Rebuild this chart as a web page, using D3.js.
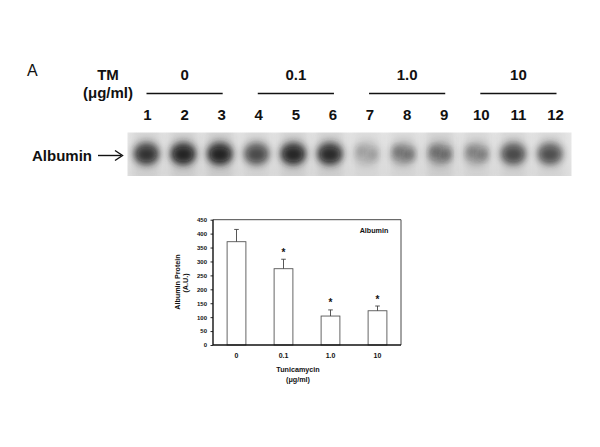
<!DOCTYPE html>
<html><head><meta charset="utf-8">
<script src="https://cdn.jsdelivr.net/npm/d3@7/dist/d3.min.js"></script>
<style>
html,body{margin:0;padding:0;background:#fff;}
svg{display:block;font-family:"Liberation Sans",Arial,sans-serif;}
text{fill:#111;}
</style></head>
<body>
<svg id="c" width="600" height="447"></svg>
<script>
// ---- Data ----
const laneNumbers = [1,2,3,4,5,6,7,8,9,10,11,12];
const doseGroups = ["0","0.1","1.0","10"];
const groupLanes = [[1,2,3],[4,5,6],[7,8,9],[10,11,12]];
// estimated band darkness per lane (0..1)
const laneIntensity = [0.85,0.97,0.98,0.7,0.95,0.92,0.25,0.4,0.42,0.35,0.7,0.68];
// estimated smear (vertical haze) per lane (0..1)
const laneSpread = [0.5,0.6,0.65,0.4,0.55,0.55,0.3,0.35,0.55,0.4,0.45,0.35];

const categories = ["0","0.1","1.0","10"];
const meanValues = [371,274,104,123];
const errorValues = [44,34,22,17];
const significant = [false,true,true,true];
const yTicks = [0,50,100,150,200,250,300,350,400,450];

const svg = d3.select("#c");
const defs = svg.append("defs");

// ---- Blot panel ----
svg.append("text").attr("x",27).attr("y",76).attr("font-size",16).text("A");
svg.append("text").attr("x",108).attr("y",80).attr("font-size",15).attr("font-weight","bold")
  .attr("text-anchor","middle").text("TM");
svg.append("text").attr("x",108).attr("y",98).attr("font-size",15).attr("font-weight","bold")
  .attr("text-anchor","middle").text("(\u03bcg/ml)");

const laneX = d3.scalePoint().domain(laneNumbers).range([147.5,555.5]);
const bandX = d3.scalePoint().domain(laneNumbers).range([146.5,550]);

svg.selectAll(".lanenum").data(laneNumbers).join("text")
  .attr("x",d=>laneX(d)).attr("y",120).attr("font-size",15).attr("font-weight","bold")
  .attr("text-anchor","middle").text(d=>d);

groupLanes.forEach((g,i)=>{
  const x0 = laneX(g[0]), x1 = laneX(g[g.length-1]);
  svg.append("line").attr("x1",x0-1).attr("x2",x1+1).attr("y1",93.5).attr("y2",93.5)
    .attr("stroke","#111").attr("stroke-width",1.3);
  svg.append("text").attr("x",(x0+x1)/2).attr("y",80).attr("font-size",15).attr("font-weight","bold")
    .attr("text-anchor","middle").text(doseGroups[i]);
});

svg.append("text").attr("x",32).attr("y",161).attr("font-size",15).attr("font-weight","bold").text("Albumin");
svg.append("line").attr("x1",98).attr("x2",121).attr("y1",155.5).attr("y2",155.5).attr("stroke","#111").attr("stroke-width",1.4);
svg.append("path").attr("d","M115,150.5 L122.5,155.5 L115,160.5").attr("fill","none").attr("stroke","#111").attr("stroke-width",1.4);

const blot = {x0:127.5,x1:571.5,y0:132.5,y1:176};
defs.append("clipPath").attr("id","blotclip").append("rect")
  .attr("x",blot.x0).attr("y",blot.y0).attr("width",blot.x1-blot.x0).attr("height",blot.y1-blot.y0);
const f1 = defs.append("filter").attr("id","blur1").attr("x","-50%").attr("y","-50%").attr("width","200%").attr("height","200%");
f1.append("feGaussianBlur").attr("stdDeviation",3.5);
const f2 = defs.append("filter").attr("id","blur2").attr("x","-50%").attr("y","-50%").attr("width","200%").attr("height","200%");
f2.append("feGaussianBlur").attr("stdDeviation",5);
const grad = defs.append("linearGradient").attr("id","blotbg").attr("x1",0).attr("x2",0).attr("y1",0).attr("y2",1);
grad.append("stop").attr("offset","0%").attr("stop-color","#e8e8e8");
grad.append("stop").attr("offset","100%").attr("stop-color","#e0e0e0");

svg.append("rect").attr("x",blot.x0).attr("y",blot.y0).attr("width",blot.x1-blot.x0).attr("height",blot.y1-blot.y0)
  .attr("fill","url(#blotbg)");
const bg = svg.append("g").attr("clip-path","url(#blotclip)");
const bandY = 153.5;
// vertical smears (lane columns)
bg.selectAll(".smear").data(laneNumbers).join("rect")
  .attr("x",d=>bandX(d)-14).attr("y",blot.y0-4).attr("width",28).attr("height",blot.y1-blot.y0+8)
  .attr("fill","#333").attr("opacity",(d,i)=>laneSpread[i]*0.22).attr("filter","url(#blur2)");
// band body
bg.selectAll(".body").data(laneNumbers).join("ellipse")
  .attr("cx",d=>bandX(d)).attr("cy",bandY).attr("rx",13).attr("ry",12)
  .attr("fill","#1a1a1a").attr("opacity",(d,i)=>laneIntensity[i]*0.7).attr("filter","url(#blur1)");
// band core
bg.selectAll(".core").data(laneNumbers).join("ellipse")
  .attr("cx",d=>bandX(d)).attr("cy",bandY+1).attr("rx",10).attr("ry",7)
  .attr("fill","#0a0a0a").attr("opacity",(d,i)=>Math.max(0,laneIntensity[i]-0.25)).attr("filter","url(#blur1)");
// mottled spots for faint lanes
bg.selectAll(".spotL").data(laneNumbers).join("ellipse")
  .attr("cx",d=>bandX(d)-5).attr("cy",bandY-2).attr("rx",4).attr("ry",4.5)
  .attr("fill","#222").attr("opacity",(d,i)=>laneIntensity[i]<0.5?laneIntensity[i]*1.1:0).attr("filter","url(#blur1)");
bg.selectAll(".spotR").data(laneNumbers).join("ellipse")
  .attr("cx",d=>bandX(d)+6).attr("cy",bandY+1).attr("rx",4).attr("ry",4.5)
  .attr("fill","#222").attr("opacity",(d,i)=>laneIntensity[i]<0.5?laneIntensity[i]*1.2:0).attr("filter","url(#blur1)");

// ---- Bar chart ----
const m = {l:213,r:401,t:219.7,b:345};
const x = d3.scaleBand().domain(categories).range([m.l,m.r]).paddingInner(0.6).paddingOuter(0.3);
const y = d3.scaleLinear().domain([0,450]).range([m.b,m.t]);

svg.append("line").attr("x1",m.l).attr("x2",m.r).attr("y1",m.t).attr("y2",m.t).attr("stroke","#333").attr("stroke-width",0.9);
svg.append("line").attr("x1",m.r).attr("x2",m.r).attr("y1",m.t).attr("y2",m.b).attr("stroke","#333").attr("stroke-width",0.9);

svg.selectAll(".bar").data(meanValues).join("rect")
  .attr("x",(d,i)=>x(categories[i])).attr("width",x.bandwidth())
  .attr("y",d=>y(d)).attr("height",d=>y(0)-y(d))
  .attr("fill","#fff").attr("stroke","#555").attr("stroke-width",0.9);
const eb = svg.selectAll(".err").data(meanValues).join("g");
eb.append("line").attr("x1",(d,i)=>x(categories[i])+x.bandwidth()/2).attr("x2",(d,i)=>x(categories[i])+x.bandwidth()/2)
  .attr("y1",d=>y(d)).attr("y2",(d,i)=>y(d+errorValues[i])).attr("stroke","#444").attr("stroke-width",0.9);
eb.append("line").attr("x1",(d,i)=>x(categories[i])+x.bandwidth()/2-2.3).attr("x2",(d,i)=>x(categories[i])+x.bandwidth()/2+2.3)
  .attr("y1",(d,i)=>y(d+errorValues[i])).attr("y2",(d,i)=>y(d+errorValues[i])).attr("stroke","#444").attr("stroke-width",0.9);
svg.selectAll(".star").data(meanValues).join("text")
  .attr("x",(d,i)=>x(categories[i])+x.bandwidth()/2).attr("y",(d,i)=>y(d+errorValues[i])-3.5)
  .attr("text-anchor","middle").attr("font-size",10).attr("font-weight","bold")
  .text((d,i)=>significant[i]?"*":"");

const yAxis = d3.axisLeft(y).tickValues(yTicks).tickSize(2.5).tickPadding(3.5);
const gy = svg.append("g").attr("transform",`translate(${m.l},0)`).call(yAxis);
gy.select(".domain").attr("stroke","#111").attr("stroke-width",1.4).attr("d",`M0,${m.t}V${m.b}`);
gy.selectAll(".tick line").attr("stroke","#111").attr("stroke-width",0.9);
gy.selectAll(".tick text").attr("font-size",6).attr("font-weight","bold").attr("fill","#111")
  .attr("font-family","Liberation Sans, Arial, sans-serif");

const xAxis = d3.axisBottom(x).tickSize(0).tickPadding(8.5);
const gx = svg.append("g").attr("transform",`translate(0,${m.b})`).call(xAxis);
gx.select(".domain").attr("stroke","#111").attr("stroke-width",1.4).attr("d",`M${m.l},0H${m.r}`);
gx.selectAll(".tick text").attr("font-size",7).attr("font-weight","bold").attr("fill","#111")
  .attr("font-family","Liberation Sans, Arial, sans-serif");

svg.append("text").attr("x",298).attr("y",371.5).attr("text-anchor","middle").attr("font-size",7.2)
  .attr("font-weight","bold").text("Tunicamycin");
svg.append("text").attr("x",298).attr("y",381.5).attr("text-anchor","middle").attr("font-size",7.2)
  .attr("font-weight","bold").text("(\u03bcg/ml)");

svg.append("text").attr("transform","translate(179.5,282) rotate(-90)").attr("text-anchor","middle")
  .attr("font-size",7.2).attr("font-weight","bold").text("Albumin Protein");
svg.append("text").attr("transform","translate(187.5,283) rotate(-90)").attr("text-anchor","middle")
  .attr("font-size",7.2).attr("font-weight","bold").text("(A.U.)");

svg.append("text").attr("x",374).attr("y",233).attr("text-anchor","middle").attr("font-size",7.2)
  .attr("font-weight","bold").text("Albumin");
</script>
</body></html>
